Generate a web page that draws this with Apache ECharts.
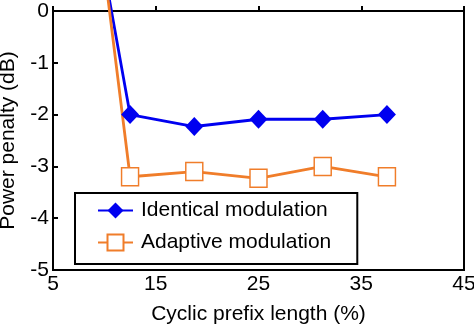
<!DOCTYPE html>
<html>
<head>
<meta charset="utf-8">
<script src="https://cdn.jsdelivr.net/npm/echarts@6/dist/echarts.min.js"></script>
<style>
  html, body { margin: 0; padding: 0; background: #fff; }
  #chart { width: 474px; height: 325px; }
</style>
</head>
<body>
<div id="chart"></div>
<script>
// Cyclic prefix length (%) and measured power penalty (dB)
const cpLength = [6.25, 12.5, 18.75, 25, 31.25, 37.5];
const identicalPenalty = [4.9, -2.0, -2.23, -2.09, -2.09, -2.0];
const adaptivePenalty = [6.8, -3.2, -3.1, -3.23, -3.0, -3.2];
const seriesNames = ['Identical modulation', 'Adaptive modulation'];

const FONT = 'Liberation Sans, Arial, sans-serif';
const FS = 21;
const BLUE = '#0000f0';
const ORANGE = '#f07d2a';

const pairs = (xs, ys) => xs.map((x, i) => [x, ys[i]]);

const chart = echarts.init(document.getElementById('chart'));
chart.setOption({
  animation: false,
  backgroundColor: '#fff',
  textStyle: { fontFamily: FONT },
  grid: {
    left: 53, right: 10, top: 11, bottom: 55,
    containLabel: false, outerBoundsMode: 'none',
    show: true, borderColor: '#000', borderWidth: 2, backgroundColor: 'transparent'
  },
  xAxis: {
    type: 'value', min: 5, max: 45, interval: 10,
    name: 'Cyclic prefix length (%)', nameLocation: 'middle', nameGap: 34,
    nameTextStyle: { fontSize: FS, color: '#000', fontFamily: FONT },
    axisLine: { lineStyle: { color: '#000', width: 2 } },
    axisTick: { inside: true, length: 5, lineStyle: { color: '#000', width: 2 } },
    axisLabel: { fontSize: FS, color: '#000', margin: 4, fontFamily: FONT },
    splitLine: { show: false }
  },
  yAxis: {
    type: 'value', min: -5, max: 0, interval: 1,
    name: 'Power penalty (dB)', nameLocation: 'middle', nameGap: 34, nameRotate: 90,
    nameTextStyle: { fontSize: FS, color: '#000', fontFamily: FONT },
    axisLine: { show: true, lineStyle: { color: '#000', width: 2 } },
    axisTick: { show: true, inside: true, length: 5, lineStyle: { color: '#000', width: 2 } },
    axisLabel: { fontSize: FS, color: '#000', margin: 4, fontFamily: FONT },
    splitLine: { show: false }
  },
  legend: {
    orient: 'vertical', left: 75, top: 193,
    padding: [7, 26, 11, 22], itemGap: 11,
    itemWidth: 35, itemHeight: 20,
    backgroundColor: '#fff', borderColor: '#000', borderWidth: 2,
    textStyle: { fontSize: FS, color: '#000', fontFamily: FONT, padding: [0, 0, 0, 3] },
    data: seriesNames
  },
  series: [
    {
      name: seriesNames[0], type: 'line', clip: false,
      data: pairs(cpLength, identicalPenalty),
      symbol: 'diamond', symbolSize: [18, 19],
      lineStyle: { color: BLUE, width: 2.8 },
      itemStyle: { color: BLUE }
    },
    {
      name: seriesNames[1], type: 'line', clip: false,
      data: pairs(cpLength, adaptivePenalty),
      symbol: 'rect', symbolSize: [17, 18],
      lineStyle: { color: ORANGE, width: 2.8 },
      itemStyle: { color: '#fff', borderColor: ORANGE, borderWidth: 1.5 }
    }
  ]
});
</script>
</body>
</html>
